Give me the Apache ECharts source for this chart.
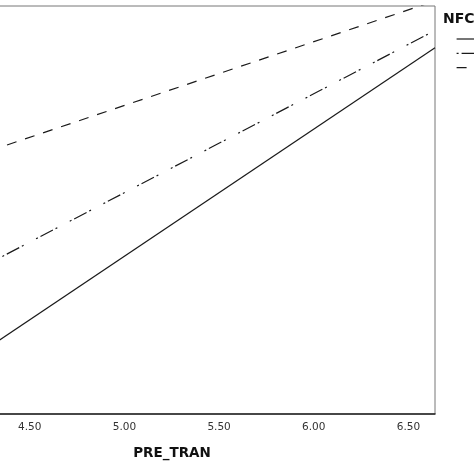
<!DOCTYPE html>
<html>
<head>
<meta charset="utf-8">
<script src="https://cdn.jsdelivr.net/npm/echarts@6/dist/echarts.min.js"></script>
<style>
html,body{margin:0;padding:0;background:#fff;}
#c{width:474px;height:474px;}
</style>
</head>
<body>
<div id="c"></div>
<script>
// Data
var xRange = [4.0, 6.64];
var xTicks = ['4.50', '5.00', '5.50', '6.00', '6.50'];
var seriesNames = ['Low', 'Medium', 'High'];
var lowNFC = [2.30, 5.59];
var medNFC = [3.20, 5.76];
var highNFC = [4.40, 6.05];
var yRange = [2, 6];

function pts(vals) { return xRange.map(function (x, i) { return [x, vals[i]]; }); }

var chart = echarts.init(document.getElementById('c'), null, {renderer: 'canvas'});
var lineColor = '#1a1a1a';
chart.setOption({
  backgroundColor: '#fff',
  animation: false,
  title: {
    text: 'NFC', left: 443, top: 12, padding: 0,
    textStyle: {fontFamily: 'DejaVu Sans', fontWeight: 'bold', fontSize: 14, color: '#111'}
  },
  legend: {
    orient: 'vertical', left: 456, top: 33, padding: 0,
    itemWidth: 30, itemHeight: 12, itemGap: 3.5,
    itemStyle: {opacity: 0},
    lineStyle: {width: 1.2},
    formatter: function () { return ''; },
    textStyle: {fontFamily: 'DejaVu Sans', fontSize: 10, color: '#222'},
    data: seriesNames
  },
  grid: {
    left: -65, right: 39, top: 6, bottom: 60,
    outerBoundsMode: 'none',
    show: true, borderColor: '#777', borderWidth: 1
  },
  xAxis: {
    type: 'value', min: xRange[0], max: xRange[1], interval: 0.5,
    name: 'PRE_TRAN', nameLocation: 'middle', nameGap: 32,
    nameTextStyle: {fontFamily: 'DejaVu Sans', fontWeight: 'bold', fontSize: 13.5, color: '#111', padding: [0, 26, 0, 0]},
    axisLine: {show: true, lineStyle: {color: '#222', width: 1.5}},
    axisTick: {show: false},
    splitLine: {show: false},
    axisLabel: {
      fontFamily: 'DejaVu Sans', fontSize: 10.5, color: '#333', margin: 8,
      formatter: function (v) {
        var s = v.toFixed(2);
        return xTicks.indexOf(s) >= 0 ? s : '';
      }
    }
  },
  yAxis: {
    type: 'value', min: yRange[0], max: yRange[1], show: false
  },
  series: [
    {name: seriesNames[0], type: 'line', symbol: 'none', data: pts(lowNFC),
      lineStyle: {color: lineColor, width: 1.2, type: 'solid'}, itemStyle: {color: lineColor}},
    {name: seriesNames[1], type: 'line', symbol: 'none', data: pts(medNFC),
      lineStyle: {color: lineColor, width: 1.2, type: [2, 3, 14, 3, 2, 14]}, itemStyle: {color: lineColor}},
    {name: seriesNames[2], type: 'line', symbol: 'none', data: pts(highNFC),
      lineStyle: {color: lineColor, width: 1.2, type: [10, 9]}, itemStyle: {color: lineColor}}
  ]
});
</script>
</body>
</html>
